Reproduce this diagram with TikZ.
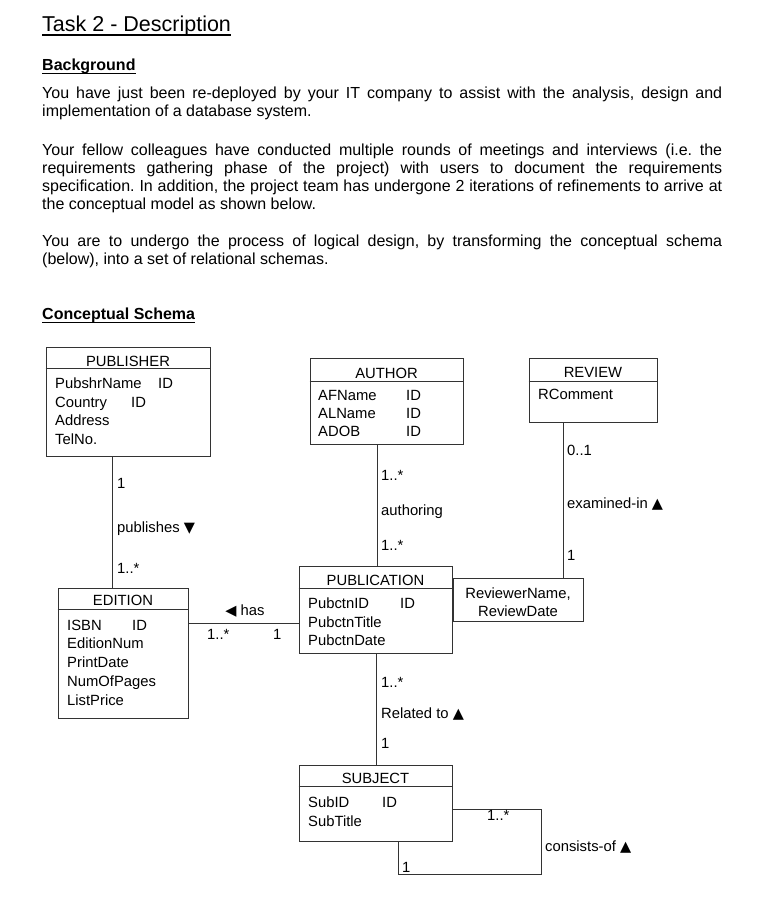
\documentclass[tikz,border=0pt]{standalone}
\usepackage{fontspec}
\setmainfont{Liberation Sans}
\newfontfamily\symfont{DejaVu Sans}
\newcommand{\triup}{{\fontsize{14.5}{14.5}\symfont ▲}}
\newcommand{\tridown}{{\fontsize{14.5}{14.5}\symfont ▼}}
\newcommand{\trileft}{{\fontsize{14.5}{14.5}\symfont ◀}}
\frenchspacing

\begin{document}
\begin{tikzpicture}[x=1pt, y=-1pt,
    line/.style={draw=black!80, line width=0.9pt},
    entity/.style={line, rectangle, inner sep=0pt},
    attr/.style={anchor=base west, inner sep=0pt, font=\fontsize{14.8}{17}\selectfont},
    ttl/.style={anchor=base, inner sep=0pt, font=\fontsize{14.8}{17}\selectfont},
    txt/.style={anchor=base west, inner sep=0pt, font=\fontsize{16}{18}\selectfont},
    head/.style={txt, font=\fontsize{16}{18}\selectfont\bfseries},
    uline/.style={line width=1.3pt}]
    \useasboundingbox (0,0) rectangle (762,916);

    % Titre
    \node[anchor=base west, inner sep=0pt, font=\fontsize{21.5}{24}\selectfont] (title) at (42,31.7) {Task 2 - Description};
    \draw[uline] ([yshift=-3.4pt]title.base west) -- ([yshift=-3.4pt]title.base east);

    % Background
    \node[head] (bg) at (42,70) {Background};
    \draw[uline] ([yshift=-3.2pt]bg.base west) -- ([yshift=-3.2pt]bg.base east);
    \node[txt] (p1a) at (42,98) {\makebox[680pt][s]{You have just been re-deployed by your IT company to assist with the analysis, design and}};
    \node[txt] (p1b) at (42,116) {implementation of a database system.};

    \node[txt] (p2a) at (42,155) {\makebox[680pt][s]{Your fellow colleagues have conducted multiple rounds of meetings and interviews (i.e. the}};
    \node[txt] (p2b) at (42,173) {\makebox[680pt][s]{requirements gathering phase of the project) with users to document the requirements}};
    \node[txt] (p2c) at (42,191) {\makebox[680pt][s]{specification. In addition, the project team has undergone 2 iterations of refinements to arrive at}};
    \node[txt] (p2d) at (42,209) {the conceptual model as shown below.};

    \node[txt] (p3a) at (42,246.5) {\makebox[680pt][s]{You are to undergo the process of logical design, by transforming the conceptual schema}};
    \node[txt] (p3b) at (42,264) {(below), into a set of relational schemas.};

    % Conceptual Schema
    \node[head] (cs) at (42,319) {Conceptual Schema};
    \draw[uline] ([yshift=-3.2pt]cs.base west) -- ([yshift=-3.2pt]cs.base east);

    % PUBLISHER
    \node[entity, minimum width=164pt, minimum height=109pt] (publisher) at (128,401.5) {};
    \draw[line] ([yshift=-22pt]publisher.north west) -- ([yshift=-22pt]publisher.north east);
    \node[ttl] (publisherT) at (128,366) {PUBLISHER};
    \node[attr] (pubname) at (55,388) {PubshrName};
    \node[attr] (pubnameID) at (158,388) {ID};
    \node[attr] (country) at (55,407) {Country};
    \node[attr] (countryID) at (131,407) {ID};
    \node[attr] (address) at (55,425) {Address};
    \node[attr] (telno) at (55,444) {TelNo.};

    % AUTHOR
    \node[entity, minimum width=153pt, minimum height=86pt] (author) at (386.5,401) {};
    \draw[line] ([yshift=-24pt]author.north west) -- ([yshift=-24pt]author.north east);
    \node[ttl] (authorT) at (386.5,378) {AUTHOR};
    \node[attr] (afname) at (318,400) {AFName};
    \node[attr] (afnameID) at (406,400) {ID};
    \node[attr] (alname) at (318,418) {ALName};
    \node[attr] (alnameID) at (406,418) {ID};
    \node[attr] (adob) at (318,436) {ADOB};
    \node[attr] (adobID) at (406,436) {ID};

    % REVIEW
    \node[entity, minimum width=128pt, minimum height=64pt] (review) at (593,390) {};
    \draw[line] ([yshift=-24pt]review.north west) -- ([yshift=-24pt]review.north east);
    \node[ttl] (reviewT) at (593,377) {REVIEW};
    \node[attr] (rcomment) at (538,399) {RComment};

    % EDITION
    \node[entity, minimum width=130pt, minimum height=130pt] (edition) at (123,653) {};
    \draw[line] ([yshift=-22pt]edition.north west) -- ([yshift=-22pt]edition.north east);
    \node[ttl] (editionT) at (123,605) {EDITION};
    \node[attr] (isbn) at (67,630) {ISBN};
    \node[attr] (isbnID) at (132,630) {ID};
    \node[attr] (ednum) at (67,648) {EditionNum};
    \node[attr] (printdate) at (67,667) {PrintDate};
    \node[attr] (numpages) at (67,686) {NumOfPages};
    \node[attr] (listprice) at (67,705) {ListPrice};

    % PUBLICATION
    \node[entity, minimum width=153pt, minimum height=87pt] (publication) at (375.5,609.5) {};
    \draw[line] ([yshift=-23pt]publication.north west) -- ([yshift=-23pt]publication.north east);
    \node[ttl] (publicationT) at (375.5,585) {PUBLICATION};
    \node[attr] (pubid) at (308,608) {PubctnID};
    \node[attr] (pubidID) at (400,608) {ID};
    \node[attr] (pubtitle) at (308,627) {PubctnTitle};
    \node[attr] (pubdate) at (308,645) {PubctnDate};

    % classe d'association
    \node[entity, minimum width=130pt, minimum height=43pt] (reviewinfo) at (518,599.5) {};
    \node[ttl] (rvname) at (518,598) {ReviewerName,};
    \node[ttl] (rvdate) at (518,616) {ReviewDate};

    % SUBJECT
    \node[entity, minimum width=153pt, minimum height=76pt] (subject) at (375.5,803) {};
    \draw[line] ([yshift=-22pt]subject.north west) -- ([yshift=-22pt]subject.north east);
    \node[ttl] (subjectT) at (375.5,783) {SUBJECT};
    \node[attr] (subid) at (308,807) {SubID};
    \node[attr] (subidID) at (382,807) {ID};
    \node[attr] (subtitle) at (308,826) {SubTitle};

    % publishes
    \coordinate (pe) at (112,0);
    \draw[line] (publisher.south -| pe) -- (edition.north -| pe);
    \node[attr] (peA) at (117,488) {1};
    \node[attr] (peL) at (117,532) {publishes \tridown};
    \node[attr] (peB) at (117,573) {1..*};

    % authoring
    \coordinate (ap) at (377,0);
    \draw[line] (author.south -| ap) -- (publication.north -| ap);
    \node[attr] (apA) at (381,480) {1..*};
    \node[attr] (apL) at (381,515) {authoring};
    \node[attr] (apB) at (381,550) {1..*};

    % examined-in
    \coordinate (rv) at (563,0);
    \draw[line] (review.south -| rv) -- (reviewinfo.north -| rv);
    \node[attr] (rvA) at (567,455) {0..1};
    \node[attr] (rvL) at (567,508) {examined-in \triup};
    \node[attr] (rvB) at (567,560) {1};

    % has
    \coordinate (eh) at (0,623);
    \draw[line] (edition.east |- eh) -- (publication.west |- eh);
    \node[ttl] (ehL) at (245,615) {\trileft\ has};
    \node[attr] (ehA) at (207,639) {1..*};
    \node[attr] (ehB) at (273,639) {1};

    % Related to
    \coordinate (ps) at (376,0);
    \draw[line] (publication.south -| ps) -- (subject.north -| ps);
    \node[attr] (psA) at (381,687) {1..*};
    \node[attr] (psL) at (381,718) {Related to \triup};
    \node[attr] (psB) at (381,748) {1};

    % consists-of
    \coordinate (sl1) at (541,809);
    \coordinate (sl2) at (398,874);
    \draw[line] (subject.east |- sl1) -- (sl1) |- (sl2) -- (subject.south -| sl2);
    \node[attr] (slA) at (487,820) {1..*};
    \node[attr] (slL) at (545,851) {consists-of \triup};
    \node[attr] (slB) at (402,872.5) {1};
\end{tikzpicture}
\end{document}
